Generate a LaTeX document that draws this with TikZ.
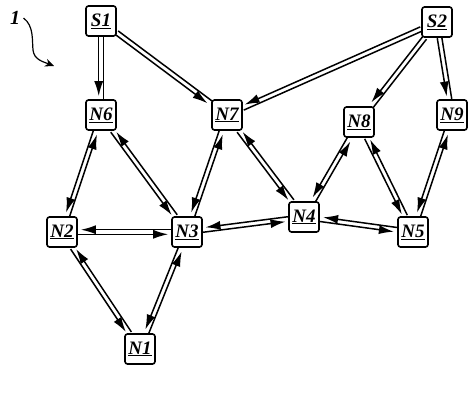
\documentclass[tikz,border=0pt]{standalone}
\usepackage{fontspec}
\setmainfont{Liberation Serif}
\usepackage{tikz}
\usetikzlibrary{arrows.meta,calc}

\tikzset{
  netnode/.style={draw, line width=1.6pt, rounded corners=2.5pt, minimum width=30pt, minimum height=30pt, inner sep=0pt, fill=white, font=\fontsize{19}{20}\selectfont\bfseries\itshape},
  link/.style={line width=1.5pt, shorten >=3pt, -{Latex[length=15pt,width=9pt]}},
  plainlink/.style={line width=1.5pt}
}

\begin{document}
\begin{tikzpicture}[x=1pt,y=-1pt]
				\useasboundingbox (0,0) rectangle (474,410);
				
				\node[netnode] (S1) at (101,21) {\underline{S1}};
				\node[netnode] (S2) at (437,22) {\underline{S2}};
				\node[netnode] (N6) at (101,115) {\underline{N6}};
				\node[netnode] (N7) at (227,115) {\underline{N7}};
				\node[netnode] (N8) at (359,122) {\underline{N8}};
				\node[netnode] (N9) at (452,115) {\underline{N9}};
				\node[netnode] (N2) at (62,232) {\underline{N2}};
				\node[netnode] (N3) at (187,232) {\underline{N3}};
				\node[netnode] (N4) at (304,217) {\underline{N4}};
				\node[netnode] (N5) at (413,232) {\underline{N5}};
				\node[netnode] (N1) at (140,349) {\underline{N1}};
				
				% one-way links
				\foreach \a/\b in {S1/N6, S1/N7, S2/N7, S2/N8, S2/N9} {
					\path (\a) -- (\b) coordinate[pos=0] (p) coordinate[pos=1] (q);
					\draw[link] ($(p)!2.3pt!-90:(q)$) -- ($(q)!2.3pt!90:(p)$);
					\draw[plainlink] ($(p)!2.3pt!90:(q)$) -- ($(q)!2.3pt!-90:(p)$);
				}
				
				% two-way links
				\foreach \a/\b in {N6/N2, N6/N3, N7/N3, N7/N4, N2/N3, N2/N1, N3/N1, N3/N4, N4/N8, N4/N5, N8/N5, N9/N5} {
					\path (\a) -- (\b) coordinate[pos=0] (p) coordinate[pos=1] (q);
					\draw[link] ($(p)!2.3pt!-90:(q)$) -- ($(q)!2.3pt!90:(p)$);
					\draw[link] ($(q)!2.3pt!-90:(p)$) -- ($(p)!2.3pt!90:(q)$);
				}
				
				\node[font=\fontsize{20}{22}\selectfont\bfseries\itshape] (ref) at (15,18) {1};
				\coordinate (refend) at (54,66);
				\draw[line width=1.2pt, -{Stealth[length=9pt,width=8pt]}] (ref.east) .. controls (34,26) and (32,40) .. (33,50) .. controls (34,60) and (44,62) .. (refend);
			\end{tikzpicture}
\end{document}
